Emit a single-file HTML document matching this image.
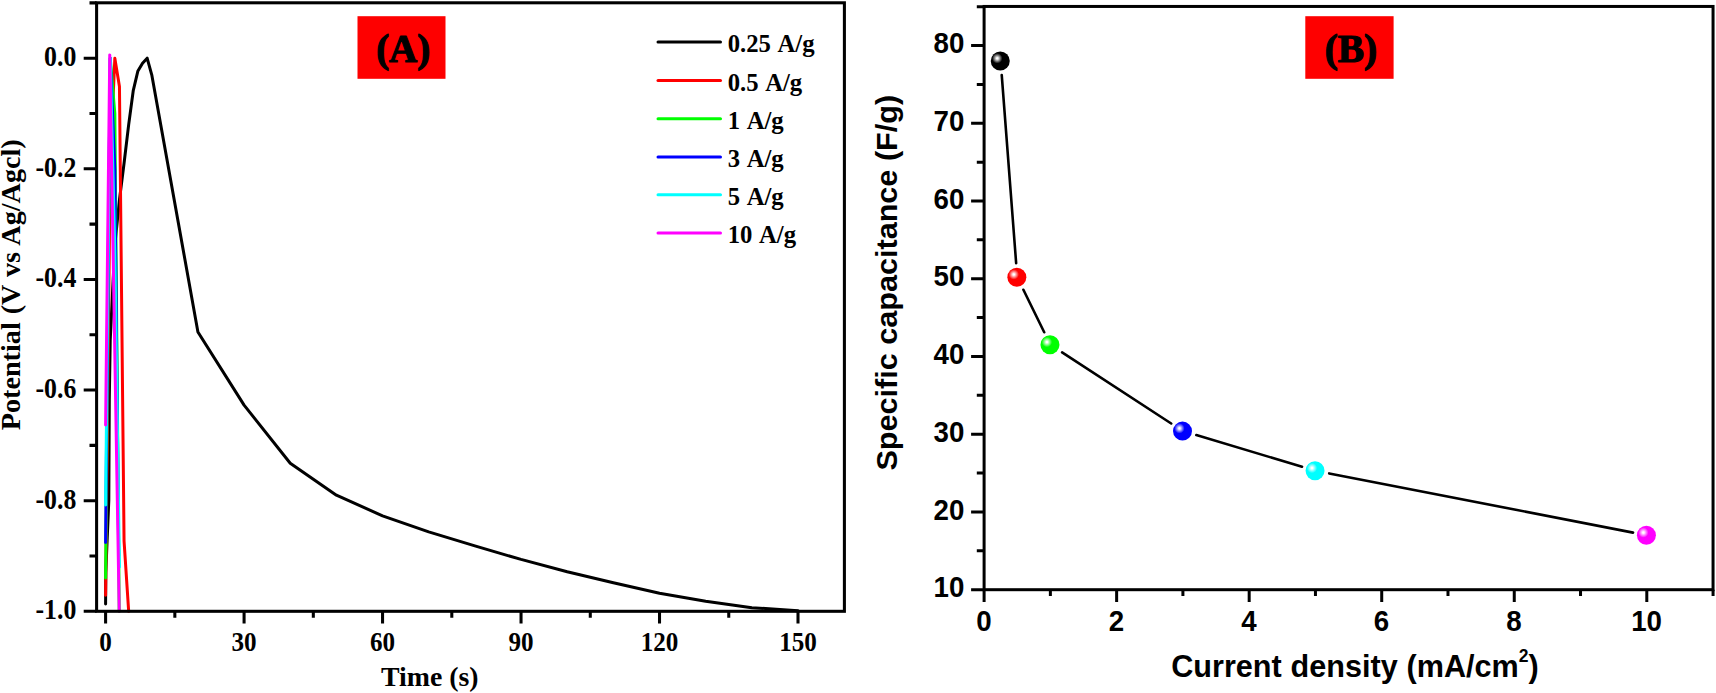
<!DOCTYPE html>
<html lang="en"><head><meta charset="utf-8"><title>GCD curves and specific capacitance</title>
<style>
html,body{margin:0;padding:0;background:#fff;}
body{width:1716px;height:693px;overflow:hidden;}
svg{display:block;}
.ser{font-family:"Liberation Serif","Times New Roman",serif;font-weight:bold;fill:#000;}
.san{font-family:"Liberation Sans",Arial,sans-serif;font-weight:bold;fill:#000;}
.ax{stroke:#000;fill:none;stroke-linecap:butt;}
.crv{fill:none;stroke-linejoin:round;stroke-linecap:round;}
</style></head><body>
<svg width="1716" height="693" viewBox="0 0 1716 693">
<defs>
<radialGradient id="sk" cx="0.34" cy="0.355" r="0.27" fx="0.34" fy="0.355"><stop offset="0" stop-color="#fff"/><stop offset="0.14" stop-color="#fff"/><stop offset="1" stop-color="#000000"/></radialGradient>
<radialGradient id="sr" cx="0.34" cy="0.355" r="0.27" fx="0.34" fy="0.355"><stop offset="0" stop-color="#fff"/><stop offset="0.14" stop-color="#fff"/><stop offset="1" stop-color="#ff0000"/></radialGradient>
<radialGradient id="sg" cx="0.34" cy="0.355" r="0.27" fx="0.34" fy="0.355"><stop offset="0" stop-color="#fff"/><stop offset="0.14" stop-color="#fff"/><stop offset="1" stop-color="#00ff00"/></radialGradient>
<radialGradient id="sb" cx="0.34" cy="0.355" r="0.27" fx="0.34" fy="0.355"><stop offset="0" stop-color="#fff"/><stop offset="0.14" stop-color="#fff"/><stop offset="1" stop-color="#0000ff"/></radialGradient>
<radialGradient id="sc" cx="0.34" cy="0.355" r="0.27" fx="0.34" fy="0.355"><stop offset="0" stop-color="#fff"/><stop offset="0.14" stop-color="#fff"/><stop offset="1" stop-color="#00ffff"/></radialGradient>
<radialGradient id="sm" cx="0.34" cy="0.355" r="0.27" fx="0.34" fy="0.355"><stop offset="0" stop-color="#fff"/><stop offset="0.14" stop-color="#fff"/><stop offset="1" stop-color="#ff00ff"/></radialGradient>
</defs>
<rect x="0" y="0" width="1716" height="693" fill="#fff"/>
<g id="chartA">
<path class="crv" d="M105.6 603.89 L105.78 572.58 L108.79 500.68 L109.29 400.02 L110.22 340.28 L114.83 245.15 L119.45 199.79 L124.06 163.29 L128.68 124.57 L133.3 90.28 L137.91 70.92 L142.53 63.18 L147.14 58.2 L151.76 74.79 L197.92 331.93 L244.08 405.1 L290.24 463.29 L336.4 495.15 L382.56 515.83 L428.72 531.93 L474.88 545.92 L521.04 559.42 L567.2 571.81 L613.36 582.82 L659.52 593.21 L705.68 601.34 L751.84 607.7 L798 610.75" stroke="#000" stroke-width="3.0"/>
<path class="crv" d="M105.6 595.26 L110.22 163.29 L114.83 58.2 L119.45 86.41 L124.06 541.06 L128.68 611.3" stroke="#ff0000" stroke-width="3.0"/>
<path class="crv" d="M105.6 577.89 L110.22 58.2 L114.83 113.51 L119.22 611.3" stroke="#00ff00" stroke-width="3.0"/>
<path class="crv" d="M105.6 542.38 L110.22 58.2 L114.83 168.82 L118.71 555.99" stroke="#0000ff" stroke-width="3.0"/>
<path class="crv" d="M105.6 505.1 L110.22 58.2 L114.83 251.79 L119.45 567.05" stroke="#00ffff" stroke-width="3.0"/>
<path class="crv" d="M105.6 424.91 L109.75 54.88 L119.22 611.3" stroke="#ff00ff" stroke-width="3.0"/>
<rect class="ax" x="96.6" y="2.8" width="747.8" height="608.5" stroke-width="3.05"/>
<path class="ax" d="M83.7 611.3H96.6M89.5 555.99H96.6M83.7 500.68H96.6M89.5 445.37H96.6M83.7 390.06H96.6M89.5 334.75H96.6M83.7 279.44H96.6M89.5 224.13H96.6M83.7 168.82H96.6M89.5 113.51H96.6M83.7 58.2H96.6M89.5 2.89H96.6M105.6 611.3V623.5M174.84 611.3V617.8M244.08 611.3V623.5M313.32 611.3V617.8M382.56 611.3V623.5M451.8 611.3V617.8M521.04 611.3V623.5M590.28 611.3V617.8M659.52 611.3V623.5M728.76 611.3V617.8M798 611.3V623.5" stroke-width="3.05"/>
<text class="ser" transform="translate(76.3 66.1) scale(1 1.105)" font-size="25.8" text-anchor="end">0.0</text>
<text class="ser" transform="translate(76.3 176.72) scale(1 1.105)" font-size="25.8" text-anchor="end">-0.2</text>
<text class="ser" transform="translate(76.3 287.34) scale(1 1.105)" font-size="25.8" text-anchor="end">-0.4</text>
<text class="ser" transform="translate(76.3 397.96) scale(1 1.105)" font-size="25.8" text-anchor="end">-0.6</text>
<text class="ser" transform="translate(76.3 508.58) scale(1 1.105)" font-size="25.8" text-anchor="end">-0.8</text>
<text class="ser" transform="translate(76.3 619.2) scale(1 1.105)" font-size="25.8" text-anchor="end">-1.0</text>
<text class="ser" transform="translate(105.6 651) scale(1 1.105)" font-size="25.1" text-anchor="middle">0</text>
<text class="ser" transform="translate(244.08 651) scale(1 1.105)" font-size="25.1" text-anchor="middle">30</text>
<text class="ser" transform="translate(382.56 651) scale(1 1.105)" font-size="25.1" text-anchor="middle">60</text>
<text class="ser" transform="translate(521.04 651) scale(1 1.105)" font-size="25.1" text-anchor="middle">90</text>
<text class="ser" transform="translate(659.52 651) scale(1 1.105)" font-size="25.1" text-anchor="middle">120</text>
<text class="ser" transform="translate(798 651) scale(1 1.105)" font-size="25.1" text-anchor="middle">150</text>
<text class="ser" x="381" y="686.4" font-size="27.8">Time (s)</text>
<text class="ser" transform="translate(20.3 430.2) rotate(-90) scale(1.051 1)" font-size="26.8" word-spacing="0.9">Potential (V vs Ag/Agcl)</text>
<line x1="658" y1="42" x2="720.5" y2="42" stroke="#000000" stroke-width="3" stroke-linecap="round"/>
<text class="ser" x="727.7" y="52" font-size="24.7" word-spacing="1.8">0.25 A/g</text>
<line x1="658" y1="80.5" x2="720.5" y2="80.5" stroke="#ff0000" stroke-width="3" stroke-linecap="round"/>
<text class="ser" x="727.7" y="90.5" font-size="24.7" word-spacing="1.8">0.5 A/g</text>
<line x1="658" y1="118.7" x2="720.5" y2="118.7" stroke="#00ff00" stroke-width="3" stroke-linecap="round"/>
<text class="ser" x="727.7" y="128.7" font-size="24.7" word-spacing="1.8">1 A/g</text>
<line x1="658" y1="157" x2="720.5" y2="157" stroke="#0000ff" stroke-width="3" stroke-linecap="round"/>
<text class="ser" x="727.7" y="167" font-size="24.7" word-spacing="1.8">3 A/g</text>
<line x1="658" y1="194.8" x2="720.5" y2="194.8" stroke="#00ffff" stroke-width="3" stroke-linecap="round"/>
<text class="ser" x="727.7" y="204.8" font-size="24.7" word-spacing="1.8">5 A/g</text>
<line x1="658" y1="232.9" x2="720.5" y2="232.9" stroke="#ff00ff" stroke-width="3" stroke-linecap="round"/>
<text class="ser" x="727.7" y="242.9" font-size="24.7" word-spacing="1.8">10 A/g</text>
<rect x="357.5" y="16.2" width="88" height="62.6" fill="#fe0000"/>
<text class="ser" x="403.2" y="62.3" font-size="39" text-anchor="middle" stroke="#000" stroke-width="1.2" stroke-linejoin="round">(A)</text>
</g>
<g id="chartB">
<rect class="ax" x="984.1" y="6.45" width="728.95" height="583.25" stroke-width="3.0"/>
<path class="ax" d="M971.1 589.7H984.1M976.8 550.83H984.1M971.1 511.96H984.1M976.8 473.09H984.1M971.1 434.22H984.1M976.8 395.35H984.1M971.1 356.48H984.1M976.8 317.61H984.1M971.1 278.74H984.1M976.8 239.87H984.1M971.1 201H984.1M976.8 162.13H984.1M971.1 123.26H984.1M976.8 84.39H984.1M971.1 45.52H984.1M976.8 6.65H984.1M984.1 589.7V602M1050.37 589.7V596M1116.64 589.7V602M1182.91 589.7V596M1249.18 589.7V602M1315.45 589.7V596M1381.72 589.7V602M1447.99 589.7V596M1514.26 589.7V602M1580.53 589.7V596M1646.8 589.7V602M1713.07 589.7V596" stroke-width="3.0"/>
<text class="san" transform="translate(964.3 597.4) scale(1 1.04)" font-size="27.7" text-anchor="end">10</text>
<text class="san" transform="translate(964.3 519.66) scale(1 1.04)" font-size="27.7" text-anchor="end">20</text>
<text class="san" transform="translate(964.3 441.92) scale(1 1.04)" font-size="27.7" text-anchor="end">30</text>
<text class="san" transform="translate(964.3 364.18) scale(1 1.04)" font-size="27.7" text-anchor="end">40</text>
<text class="san" transform="translate(964.3 286.44) scale(1 1.04)" font-size="27.7" text-anchor="end">50</text>
<text class="san" transform="translate(964.3 208.7) scale(1 1.04)" font-size="27.7" text-anchor="end">60</text>
<text class="san" transform="translate(964.3 130.96) scale(1 1.04)" font-size="27.7" text-anchor="end">70</text>
<text class="san" transform="translate(964.3 53.22) scale(1 1.04)" font-size="27.7" text-anchor="end">80</text>
<text class="san" transform="translate(983.9 631.2) scale(1 1.05)" font-size="27.7" text-anchor="middle">0</text>
<text class="san" transform="translate(1116.44 631.2) scale(1 1.05)" font-size="27.7" text-anchor="middle">2</text>
<text class="san" transform="translate(1248.98 631.2) scale(1 1.05)" font-size="27.7" text-anchor="middle">4</text>
<text class="san" transform="translate(1381.52 631.2) scale(1 1.05)" font-size="27.7" text-anchor="middle">6</text>
<text class="san" transform="translate(1514.06 631.2) scale(1 1.05)" font-size="27.7" text-anchor="middle">8</text>
<text class="san" transform="translate(1646.6 631.2) scale(1 1.05)" font-size="27.7" text-anchor="middle">10</text>
<text class="san" x="1171.2" y="676.6" font-size="30.6" word-spacing="0.4">Current density (mA/cm<tspan font-size="17.5" dy="-14.6">2</tspan><tspan dy="14.6">)</tspan></text>
<text class="san" transform="translate(896.5 470.6) rotate(-90) scale(1.07 1)" font-size="28.6">Specific capacitance (F/g)</text>
<path d="M1001.74 75.03L1016.16 263.23M1023.39 289.76L1044.21 332.25M1062.1 352.46L1171.18 423.47M1196.32 435.12L1302.04 466.75M1329.19 473.43L1633.06 532.61" stroke="#000" stroke-width="2.6" fill="none" stroke-linecap="round"/>
<circle cx="1000.27" cy="61.07" r="9.5" fill="url(#sk)"/>
<circle cx="1016.84" cy="277.19" r="9.5" fill="url(#sr)"/>
<circle cx="1049.97" cy="344.82" r="9.5" fill="url(#sg)"/>
<circle cx="1182.51" cy="431.11" r="9.5" fill="url(#sb)"/>
<circle cx="1315.05" cy="470.76" r="9.5" fill="url(#sc)"/>
<circle cx="1646.4" cy="535.28" r="9.5" fill="url(#sm)"/>
<rect x="1305.3" y="16.2" width="88.3" height="62.6" fill="#fe0000"/>
<text class="ser" x="1350.9" y="62.3" font-size="39" text-anchor="middle" stroke="#000" stroke-width="1.2" stroke-linejoin="round" textLength="52.5" lengthAdjust="spacingAndGlyphs">(B)</text>
</g>
</svg></body></html>
